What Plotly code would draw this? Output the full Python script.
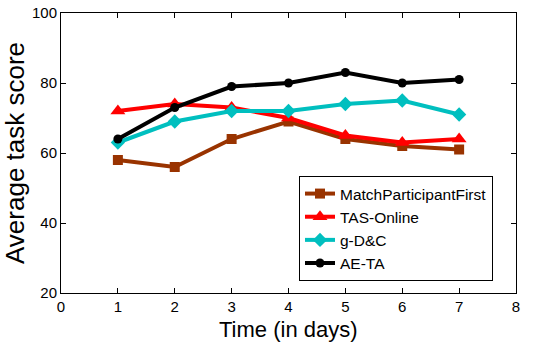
import plotly.graph_objects as go

days = [1, 2, 3, 4, 5, 6, 7]
match_first = [58, 56, 64, 69, 64, 62, 61]
tas_online = [72, 74, 73, 70, 65, 63, 64]
gdc = [63, 69, 72, 72, 74, 75, 71]
ae_ta = [64, 73, 79, 80, 83, 80, 81]

series = [
    ("MatchParticipantFirst", match_first, "#993300", "square", 10),
    ("TAS-Online", tas_online, "#ff0000", "triangle-up", 13),
    ("g-D&C", gdc, "#00bfbf", "diamond", 11),
    ("AE-TA", ae_ta, "#000000", "circle", 9),
]

fig = go.Figure()
for name, vals, col, sym, sz in series:
    fig.add_trace(go.Scatter(
        x=days, y=vals, name=name, mode="lines+markers",
        line=dict(color=col, width=4),
        marker=dict(symbol=sym, size=sz, color=col),
    ))

axis_common = dict(
    showgrid=False, zeroline=False, showline=True, linecolor="black", linewidth=1,
    mirror="allticks", ticks="inside", ticklen=5, tickcolor="black",
    automargin=False, ticklabeloverflow="allow",
    tickfont=dict(family="Liberation Sans, Arial", size=15, color="black"),
)

fig.update_layout(
    width=533, height=346,
    margin=dict(l=61, r=17, t=13, b=53),
    paper_bgcolor="white", plot_bgcolor="white",
    font=dict(family="Liberation Sans, Arial", color="black"),
    xaxis=dict(range=[0, 8], dtick=1, **axis_common),
    yaxis=dict(range=[20, 100], dtick=20, **axis_common),
    legend=dict(x=(299 - 61) / 455, y=(293 - 176) / 280, xanchor="left", yanchor="top",
                bordercolor="black", borderwidth=1, bgcolor="white",
                font=dict(size=15.5), tracegroupgap=0, itemwidth=30),
    showlegend=True,
    annotations=[
        dict(text="Time (in days)", xref="paper", yref="paper", x=0.5, y=0,
             xanchor="center", yanchor="middle", yshift=-36, showarrow=False,
             font=dict(size=22)),
        dict(text="Average task score", xref="paper", yref="paper", x=0, y=0.5,
             xanchor="center", yanchor="middle", xshift=-46, textangle=-90,
             showarrow=False, font=dict(size=26)),
    ],
)

fig.write_html("out.html", config={"displayModeBar": False},
               post_script="document.body.style.margin='0';")
